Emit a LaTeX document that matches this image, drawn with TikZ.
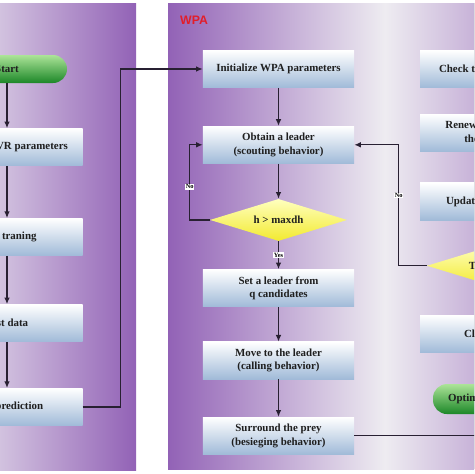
\documentclass[tikz,border=0pt]{standalone}
\usepackage{fontspec}
\setmainfont{Liberation Serif}
\newfontfamily\labelsans{Liberation Sans}
\usepackage{tikz}
\usetikzlibrary{positioning,arrows.meta,shapes.geometric,calc}
\definecolor{panelpurple}{RGB}{146,98,182}
\definecolor{panellight}{RGB}{238,236,241}
\definecolor{boxblue}{RGB}{160,186,216}
\definecolor{greenlite}{RGB}{172,228,152}
\definecolor{greendark}{RGB}{28,135,40}
\definecolor{yellowlite}{RGB}{255,255,190}
\definecolor{yellowdark}{RGB}{242,234,48}
\definecolor{linecol}{RGB}{40,32,50}
\definecolor{wpared}{RGB}{226,30,42}
\tikzset{
  procbox/.style={rectangle,top color=white,bottom color=boxblue,align=center,minimum width=4.53cm,minimum height=1.12cm,text=black!88,font=\fontsize{9.3}{11.5}\selectfont\bfseries},
  termbox/.style={rectangle,rounded corners=0.42cm,top color=greenlite,bottom color=greendark,align=center,minimum width=3.6cm,minimum height=0.84cm,text=black!88,font=\fontsize{9.3}{11.5}\selectfont\bfseries},
  decision/.style={diamond,aspect=3.26,inner sep=0pt,minimum width=4.11cm,minimum height=1.26cm,top color=yellowlite,bottom color=yellowdark,text=black!88,font=\fontsize{9.3}{11.5}\selectfont\bfseries},
  edge/.style={-{Latex[length=2mm,width=1.7mm]},line width=1.1pt,draw=linecol},
  line/.style={line width=1.1pt,draw=linecol},
  tag/.style={fill=white,inner sep=0.6pt,text=black,font=\fontsize{5.5}{5.5}\selectfont\bfseries}
}
\begin{document}
\begin{tikzpicture}[x=0.03cm,y=-0.03cm,node distance=1cm]
  \path[use as bounding box,clip] (0,0) rectangle (474,474);
  % background panels
  \fill[left color=panellight,right color=panelpurple] (-60,3) rectangle (136,470);
  \fill[left color=panelpurple,right color=panellight] (168,3) rectangle (385,469);
  \fill[left color=panellight,right color=panelpurple] (385,3) rectangle (600,469);
  \node[anchor=west,text=wpared,font=\labelsans\fontsize{10.5}{12}\selectfont\bfseries] (wpa) at (176,20) {WPA};

  % SVR side
  \node[termbox] (start) at (7,69) {Start};
  \node[procbox,below=1.35cm of start] (svrinit) {Initialize SVR parameters};
  \node[procbox,below=1.56cm of svrinit] (train) {SVR traning};
  \node[procbox,below=1.45cm of train] (test) {Test data};
  \node[procbox,below=1.38cm of test] (pred) {SVR prediction};

  % WPA side
  \node[procbox] (init) at (278.5,69) {Initialize WPA parameters};
  \node[procbox,below=1.14cm of init] (leader) {Obtain a leader\\(scouting behavior)};
  \node[decision,below=1.05cm of leader] (cond) {h > maxdh};
  \node[procbox,below=0.84cm of cond] (setl) {Set a leader from\\q candidates};
  \node[procbox,below=1.04cm of setl] (move) {Move to the leader\\(calling behavior)};
  \node[procbox,below=1.12cm of move] (surr) {Surround the prey\\(besieging behavior)};

  \node[procbox] (check) at (495.5,69) {Check the end condition};
  \node[procbox,below=0.78cm of check] (renew) {Renew the position of\\the wolf pack};
  \node[procbox,below=0.93cm of renew] (upd) {Update the head wolf};
  \node[decision,below=0.72cm of upd] (term) {Terminate?};
  \node[procbox,below=0.84cm of term] (cls) {Classification};
  \node[termbox,below=0.93cm of cls,minimum width=3.75cm,minimum height=0.9cm] (opt) {Optimal parameters};
  \coordinate[right=3.9cm of surr] (exit);

  % connectors
  \foreach \a/\b in {start/svrinit,svrinit/train,train/test,test/pred}
    \draw[edge] (\a) -- (\b);
  \foreach \a/\b in {init/leader,leader/cond,setl/move,move/surr}
    \draw[edge] (\a) -- (\b);
  \draw[edge] (cond) -- node[tag] {Yes} (setl);
  \draw[edge] (pred.east) -- ++(38,0) |- (init.west);
  \draw[edge] (cond.west) -- ++(-20,0) |- node[tag,pos=0.22] {No} (leader.west);
  \draw[edge] (term.west) -- ++(-28,0) |- node[tag,pos=0.29] {No} (leader.east);
  \draw[line] (surr) -- (exit);
\end{tikzpicture}
\end{document}
